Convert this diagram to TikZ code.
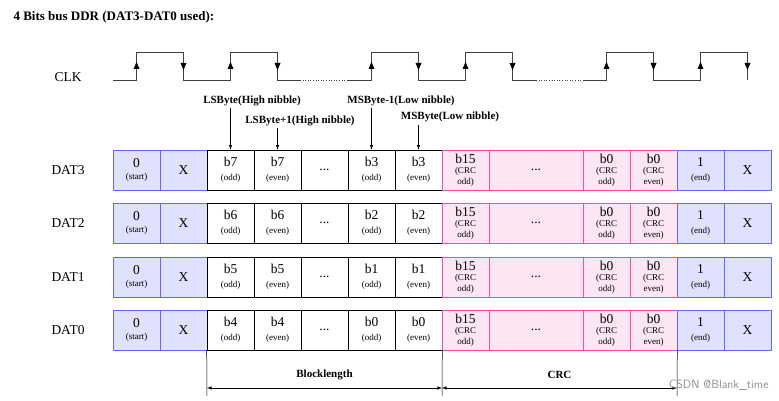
\documentclass[tikz,border=0pt]{standalone}
\usepackage{fontspec}
\setmainfont{Liberation Serif}
\newcommand{\smf}{\fontsize{9}{9}\selectfont}
\begin{document}
\begin{tikzpicture}[x=1pt,y=-1pt,
  cellb/.style={draw=black,fill=white,line width=0.6pt,minimum width=47pt,minimum height=40pt,inner sep=0pt,align=center,font=\fontsize{13.5}{12}\selectfont},
  blu/.style={cellb,draw=blue!60!white,fill=blue!12},
  pnk/.style={cellb,draw=magenta!70,fill=magenta!10},
  lab/.style={font=\fontsize{13.5}{13}\selectfont},
  ann/.style={font=\bfseries\fontsize{11}{11}\selectfont},
  clk/.style={line width=0.6pt,draw=black!75},
  ar/.style={-latex,line width=0.6pt}]
\useasboundingbox (0,0) rectangle (779,401);
\node[anchor=west,font=\bfseries\fontsize{13}{13}\selectfont] (title) at (10,17) {4 Bits bus DDR (DAT3-DAT0 used):};
\node[lab] (clk) at (68,77) {CLK};
% clock
\coordinate (c0) at (113,80);
\draw[clk] (c0) -- (136.5,80) -- (136.5,52) -- (183.5,52) -- (183.5,80) -- (230.5,80) -- (230.5,52) -- (277.5,52) -- (277.5,80) -- (300,80);
\draw[clk,dotted] (300,80) -- (348,80);
\draw[clk] (348,80) -- (371.5,80) -- (371.5,52) -- (418.5,52) -- (418.5,80) -- (465.5,80) -- (465.5,52) -- (512.5,52) -- (512.5,80) -- (536,80);
\draw[clk,dotted] (536,80) -- (584,80);
\draw[clk] (584,80) -- (606.5,80) -- (606.5,52) -- (653.5,52) -- (653.5,80) -- (700.5,80) -- (700.5,52) -- (747.5,52) -- (747.5,80);
\foreach \u in {136.5,230.5,371.5,465.5,606.5,700.5} \fill (\u,62) -- ++(-3,7) -- ++(6,0) -- cycle;
\foreach \d in {183.5,277.5,418.5,512.5,653.5,747.5} \fill (\d,70) -- ++(-3,-7) -- ++(6,0) -- cycle;
% annotations
\node[ann] (a1) at (252,101) {LSByte(High nibble)};
\node[ann] (a2) at (300,121) {LSByte+1(High nibble)};
\node[ann] (a3) at (401,101) {MSByte-1(Low nibble)};
\node[ann] (a4) at (450,117) {MSByte(Low nibble)};
% rows
\foreach \n/\y/\hi/\lo in {3/170/b7/b3, 2/223/b6/b2, 1/277/b5/b1, 0/330/b4/b0}{
  \node[lab] (L\n) at (68,\y) {DAT\n};
  \node[blu] (s\n) at (136.5,\y) {0\\[0pt]{\smf(start)}};
  \node[blu] (x\n) at (183.5,\y) {X};
  \node[cellb] (h\n) at (230.5,\y) {\hi\\[2pt]{\smf(odd)}};
  \node[cellb] (he\n) at (277.5,\y) {\hi\\[2pt]{\smf(even)}};
  \node[cellb] (d\n) at (324.5,\y) {...};
  \node[cellb] (l\n) at (371.5,\y) {\lo\\[2pt]{\smf(odd)}};
  \node[cellb] (le\n) at (418.5,\y) {\lo\\[2pt]{\smf(even)}};
  \node[pnk] (p\n) at (465.5,\y) {b15\\[-2pt]{\smf(CRC}\\[-1pt]{\smf odd)}};
  \node[pnk,minimum width=94pt] (pd\n) at (536,\y) {...};
  \node[pnk] (q\n) at (606.5,\y) {b0\\[-2pt]{\smf(CRC}\\[-1pt]{\smf odd)}};
  \node[pnk] (qe\n) at (653.5,\y) {b0\\[-2pt]{\smf(CRC}\\[-1pt]{\smf even)}};
  \node[blu] (e\n) at (700.5,\y) {1\\[2pt]{\smf(end)}};
  \node[blu] (y\n) at (747.5,\y) {X};
}
\draw[ar] (230.5,108) -- (h3.north);
\draw[ar] (277.5,128) -- (he3.north);
\draw[ar] (371.5,108) -- (l3.north);
\draw[ar] (418.5,125) -- (le3.north);
% bottom
\coordinate (b1) at (207,396);
\coordinate (b2) at (442,396);
\coordinate (b3) at (677,396);
\draw[line width=0.5pt] (h0.south west) -- (b1);
\draw[line width=0.5pt] (le0.south east) -- (b2);
\draw[line width=0.5pt] (qe0.south east) -- (b3);
\draw[latex-latex,line width=0.6pt] (207,388) -- (442,388);
\draw[latex-latex,line width=0.6pt] (442,388) -- (677,388);
\node[ann] (bl) at (324.5,375) {Blocklength};
\node[ann] (crc) at (559.5,375) {CRC};
\node[anchor=east,text=black!45,font=\sffamily\fontsize{12}{12}\selectfont] (wm) at (772,385) {CSDN @Blank\_time};
\end{tikzpicture}
\end{document}
